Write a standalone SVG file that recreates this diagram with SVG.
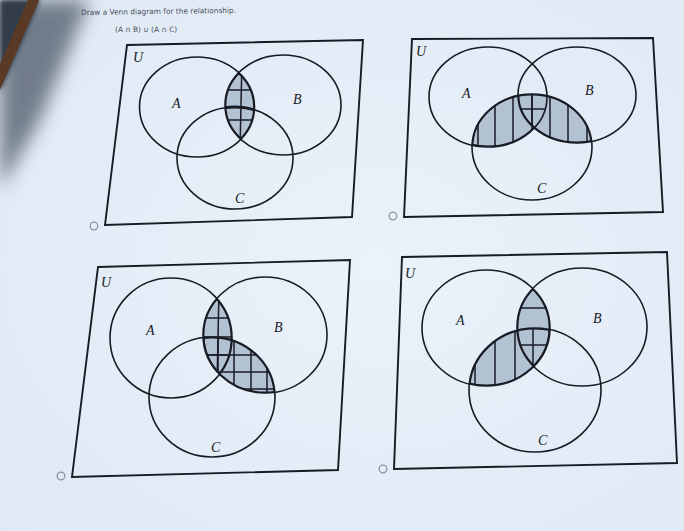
<svg xmlns="http://www.w3.org/2000/svg" width="684" height="531" viewBox="0 0 684 531">
<defs>
<style>
.frame{fill:none;stroke:#181a24;stroke-width:1.9}
.circ{fill:none;stroke:#181a24;stroke-width:1.6}
.thick{fill:none;stroke:#181a24;stroke-width:2.8}
.shade{fill:#b3c2d3}
.hatch{stroke:#181a24;stroke-width:1.5}
.lbl{font-family:"Liberation Serif",serif;font-style:italic;font-size:14px;fill:#181a24}
.hdr{font-family:"DejaVu Sans",sans-serif;font-size:7.4px;fill:#4a4f5c}
.radio{fill:none;stroke:#8d929c;stroke-width:1.3}
</style>
<radialGradient id="paper" cx="0.55" cy="0.5" r="0.75">
<stop offset="0" stop-color="#eaf2fb"/>
<stop offset="1" stop-color="#dfe9f3"/>
</radialGradient>
<filter id="blur" x="-50%" y="-50%" width="200%" height="200%"><feGaussianBlur stdDeviation="9"/></filter>
<filter id="blur2" x="-50%" y="-50%" width="200%" height="200%"><feGaussianBlur stdDeviation="2"/></filter>
<clipPath id="d1A"><ellipse cx="197" cy="107" rx="57.5" ry="50"/></clipPath>
<clipPath id="d1B"><ellipse cx="283" cy="105" rx="58" ry="50"/></clipPath>
<clipPath id="d2A"><ellipse cx="488" cy="97" rx="59" ry="50"/></clipPath>
<clipPath id="d2B"><ellipse cx="577" cy="95" rx="59" ry="48"/></clipPath>
<clipPath id="d2C"><ellipse cx="532" cy="147" rx="60" ry="53"/></clipPath>
<clipPath id="d3A"><ellipse cx="171" cy="338" rx="61" ry="60"/></clipPath>
<clipPath id="d3B"><ellipse cx="265" cy="335" rx="62" ry="58"/></clipPath>
<clipPath id="d3C"><ellipse cx="212" cy="397" rx="63" ry="60"/></clipPath>
<clipPath id="d4A"><ellipse cx="486" cy="328" rx="64" ry="58"/></clipPath>
<clipPath id="d4B"><ellipse cx="582" cy="327" rx="65" ry="59"/></clipPath>
<clipPath id="d4C"><ellipse cx="535" cy="390" rx="66" ry="62"/></clipPath>
</defs>

<rect width="684" height="531" fill="url(#paper)"/>

<g id="corner">
<polygon points="0,0 90,0 40,120 0,190" fill="#4d5868" opacity="0.75" filter="url(#blur)"/>
<polygon points="0,0 40,0 0,92" fill="#323c4a" filter="url(#blur2)"/>
<polygon points="28,0 39,0 0,90 0,64" fill="#5a3a24"/>
</g>

<g id="header">
<text class="hdr" x="81" y="15" transform="rotate(-0.8 81 15)">Draw a Venn diagram for the relationship.</text>
<text class="hdr" x="115" y="32">(A ∩ B) ∪ (A ∩ C)</text>
</g>

<g id="diagram1">
<polygon class="frame" points="127,45 363,40 352,217 105,225"/>
<g clip-path="url(#d1A)"><g clip-path="url(#d1B)">
<rect class="shade" x="150" y="40" width="150" height="130"/>
<line class="hatch" x1="242" y1="60" x2="240" y2="150"/>
<line class="hatch" x1="200" y1="90" x2="290" y2="90"/>
<line class="hatch" x1="200" y1="120" x2="290" y2="120"/>
<ellipse class="thick" cx="197" cy="107" rx="57.5" ry="50"/>
<ellipse class="thick" cx="283" cy="105" rx="58" ry="50"/>
<ellipse class="thick" cx="235" cy="158" rx="58" ry="51"/>
</g></g>
<ellipse class="circ" cx="197" cy="107" rx="57.5" ry="50"/>
<ellipse class="circ" cx="283" cy="105" rx="58" ry="50"/>
<ellipse class="circ" cx="235" cy="158" rx="58" ry="51"/>
<text class="lbl" x="133" y="62">U</text>
<text class="lbl" x="172" y="108">A</text>
<text class="lbl" x="293" y="104">B</text>
<text class="lbl" x="235" y="203">C</text>
<circle class="radio" cx="94" cy="226" r="3.8"/>
</g>

<g id="diagram2">
<polygon class="frame" points="412,39 653,38 663,212 404,217"/>
<g clip-path="url(#d2C)">
<g clip-path="url(#d2A)">
<rect class="shade" x="420" y="40" width="240" height="180"/>
<ellipse class="thick" cx="488" cy="97" rx="59" ry="50"/>
<ellipse class="thick" cx="532" cy="147" rx="60" ry="53"/>
</g>
<g clip-path="url(#d2B)">
<rect class="shade" x="420" y="40" width="240" height="180"/>
<ellipse class="thick" cx="577" cy="95" rx="59" ry="48"/>
<ellipse class="thick" cx="532" cy="147" rx="60" ry="53"/>
</g>
<g clip-path="url(#d2A)"><g clip-path="url(#d2B)">
<line class="hatch" x1="510" y1="109" x2="560" y2="109"/>
</g></g>
<g clip-path="url(#d2A)">
<line class="hatch" x1="478" y1="80" x2="478" y2="160"/>
<line class="hatch" x1="495" y1="80" x2="495" y2="160"/>
<line class="hatch" x1="513" y1="80" x2="513" y2="160"/>
<line class="hatch" x1="532" y1="80" x2="532" y2="160"/>
</g>
<g clip-path="url(#d2B)">
<line class="hatch" x1="532" y1="80" x2="532" y2="160"/>
<line class="hatch" x1="550" y1="80" x2="550" y2="160"/>
<line class="hatch" x1="568" y1="80" x2="568" y2="160"/>
<line class="hatch" x1="587" y1="80" x2="587" y2="160"/>
</g>
</g>
<ellipse class="circ" cx="488" cy="97" rx="59" ry="50"/>
<ellipse class="circ" cx="577" cy="95" rx="59" ry="48"/>
<ellipse class="circ" cx="532" cy="147" rx="60" ry="53"/>
<text class="lbl" x="416" y="56">U</text>
<text class="lbl" x="462" y="98">A</text>
<text class="lbl" x="585" y="95">B</text>
<text class="lbl" x="537" y="193">C</text>
<circle class="radio" cx="393" cy="216" r="3.8"/>
</g>

<g id="diagram3">
<polygon class="frame" points="98,267 350,260 338,470 72,477"/>
<g clip-path="url(#d3B)">
<g clip-path="url(#d3A)">
<rect class="shade" x="100" y="270" width="240" height="200"/>
</g>
<g clip-path="url(#d3C)">
<rect class="shade" x="100" y="270" width="240" height="200"/>
</g>
<g clip-path="url(#d3A)">
<line class="hatch" x1="219" y1="290" x2="217" y2="385"/>
<line class="hatch" x1="195" y1="318" x2="240" y2="318"/>
<line class="hatch" x1="195" y1="337" x2="240" y2="337"/>
<line class="hatch" x1="195" y1="355" x2="240" y2="355"/>
<ellipse class="thick" cx="171" cy="338" rx="61" ry="60"/>
<ellipse class="thick" cx="265" cy="335" rx="62" ry="58"/>
</g>
<g clip-path="url(#d3C)">
<line class="hatch" x1="218" y1="330" x2="218" y2="400"/>
<line class="hatch" x1="234" y1="330" x2="234" y2="400"/>
<line class="hatch" x1="251" y1="330" x2="251" y2="400"/>
<line class="hatch" x1="267" y1="330" x2="267" y2="400"/>
<line class="hatch" x1="200" y1="337" x2="290" y2="337"/>
<line class="hatch" x1="200" y1="355" x2="290" y2="355"/>
<line class="hatch" x1="200" y1="372" x2="290" y2="372"/>
<line class="hatch" x1="200" y1="389" x2="290" y2="389"/>
<ellipse class="thick" cx="212" cy="397" rx="63" ry="60"/>
<ellipse class="thick" cx="265" cy="335" rx="62" ry="58"/>
</g>
</g>
<ellipse class="circ" cx="171" cy="338" rx="61" ry="60"/>
<ellipse class="circ" cx="265" cy="335" rx="62" ry="58"/>
<ellipse class="circ" cx="212" cy="397" rx="63" ry="60"/>
<text class="lbl" x="101" y="287">U</text>
<text class="lbl" x="146" y="335">A</text>
<text class="lbl" x="274" y="332">B</text>
<text class="lbl" x="211" y="452">C</text>
<circle class="radio" cx="61" cy="476" r="3.8"/>
</g>

<g id="diagram4">
<polygon class="frame" points="402,257 667,252 677,463 394,469"/>
<g clip-path="url(#d4A)">
<g clip-path="url(#d4B)">
<rect class="shade" x="400" y="260" width="270" height="200"/>
</g>
<g clip-path="url(#d4C)">
<rect class="shade" x="400" y="260" width="270" height="200"/>
</g>
<g clip-path="url(#d4B)">
<line class="hatch" x1="500" y1="308" x2="560" y2="308"/>
<line class="hatch" x1="500" y1="345" x2="560" y2="345"/>
<ellipse class="thick" cx="486" cy="328" rx="64" ry="58"/>
<ellipse class="thick" cx="582" cy="327" rx="65" ry="59"/>
</g>
<g clip-path="url(#d4C)">
<line class="hatch" x1="475" y1="320" x2="475" y2="400"/>
<line class="hatch" x1="495" y1="320" x2="495" y2="400"/>
<line class="hatch" x1="515" y1="320" x2="515" y2="400"/>
<line class="hatch" x1="533" y1="320" x2="533" y2="400"/>
<ellipse class="thick" cx="486" cy="328" rx="64" ry="58"/>
<ellipse class="thick" cx="535" cy="390" rx="66" ry="62"/>
</g>
</g>
<ellipse class="circ" cx="486" cy="328" rx="64" ry="58"/>
<ellipse class="circ" cx="582" cy="327" rx="65" ry="59"/>
<ellipse class="circ" cx="535" cy="390" rx="66" ry="62"/>
<text class="lbl" x="405" y="278">U</text>
<text class="lbl" x="456" y="325">A</text>
<text class="lbl" x="593" y="323">B</text>
<text class="lbl" x="538" y="445">C</text>
<circle class="radio" cx="383" cy="469" r="3.8"/>
</g>
</svg>
